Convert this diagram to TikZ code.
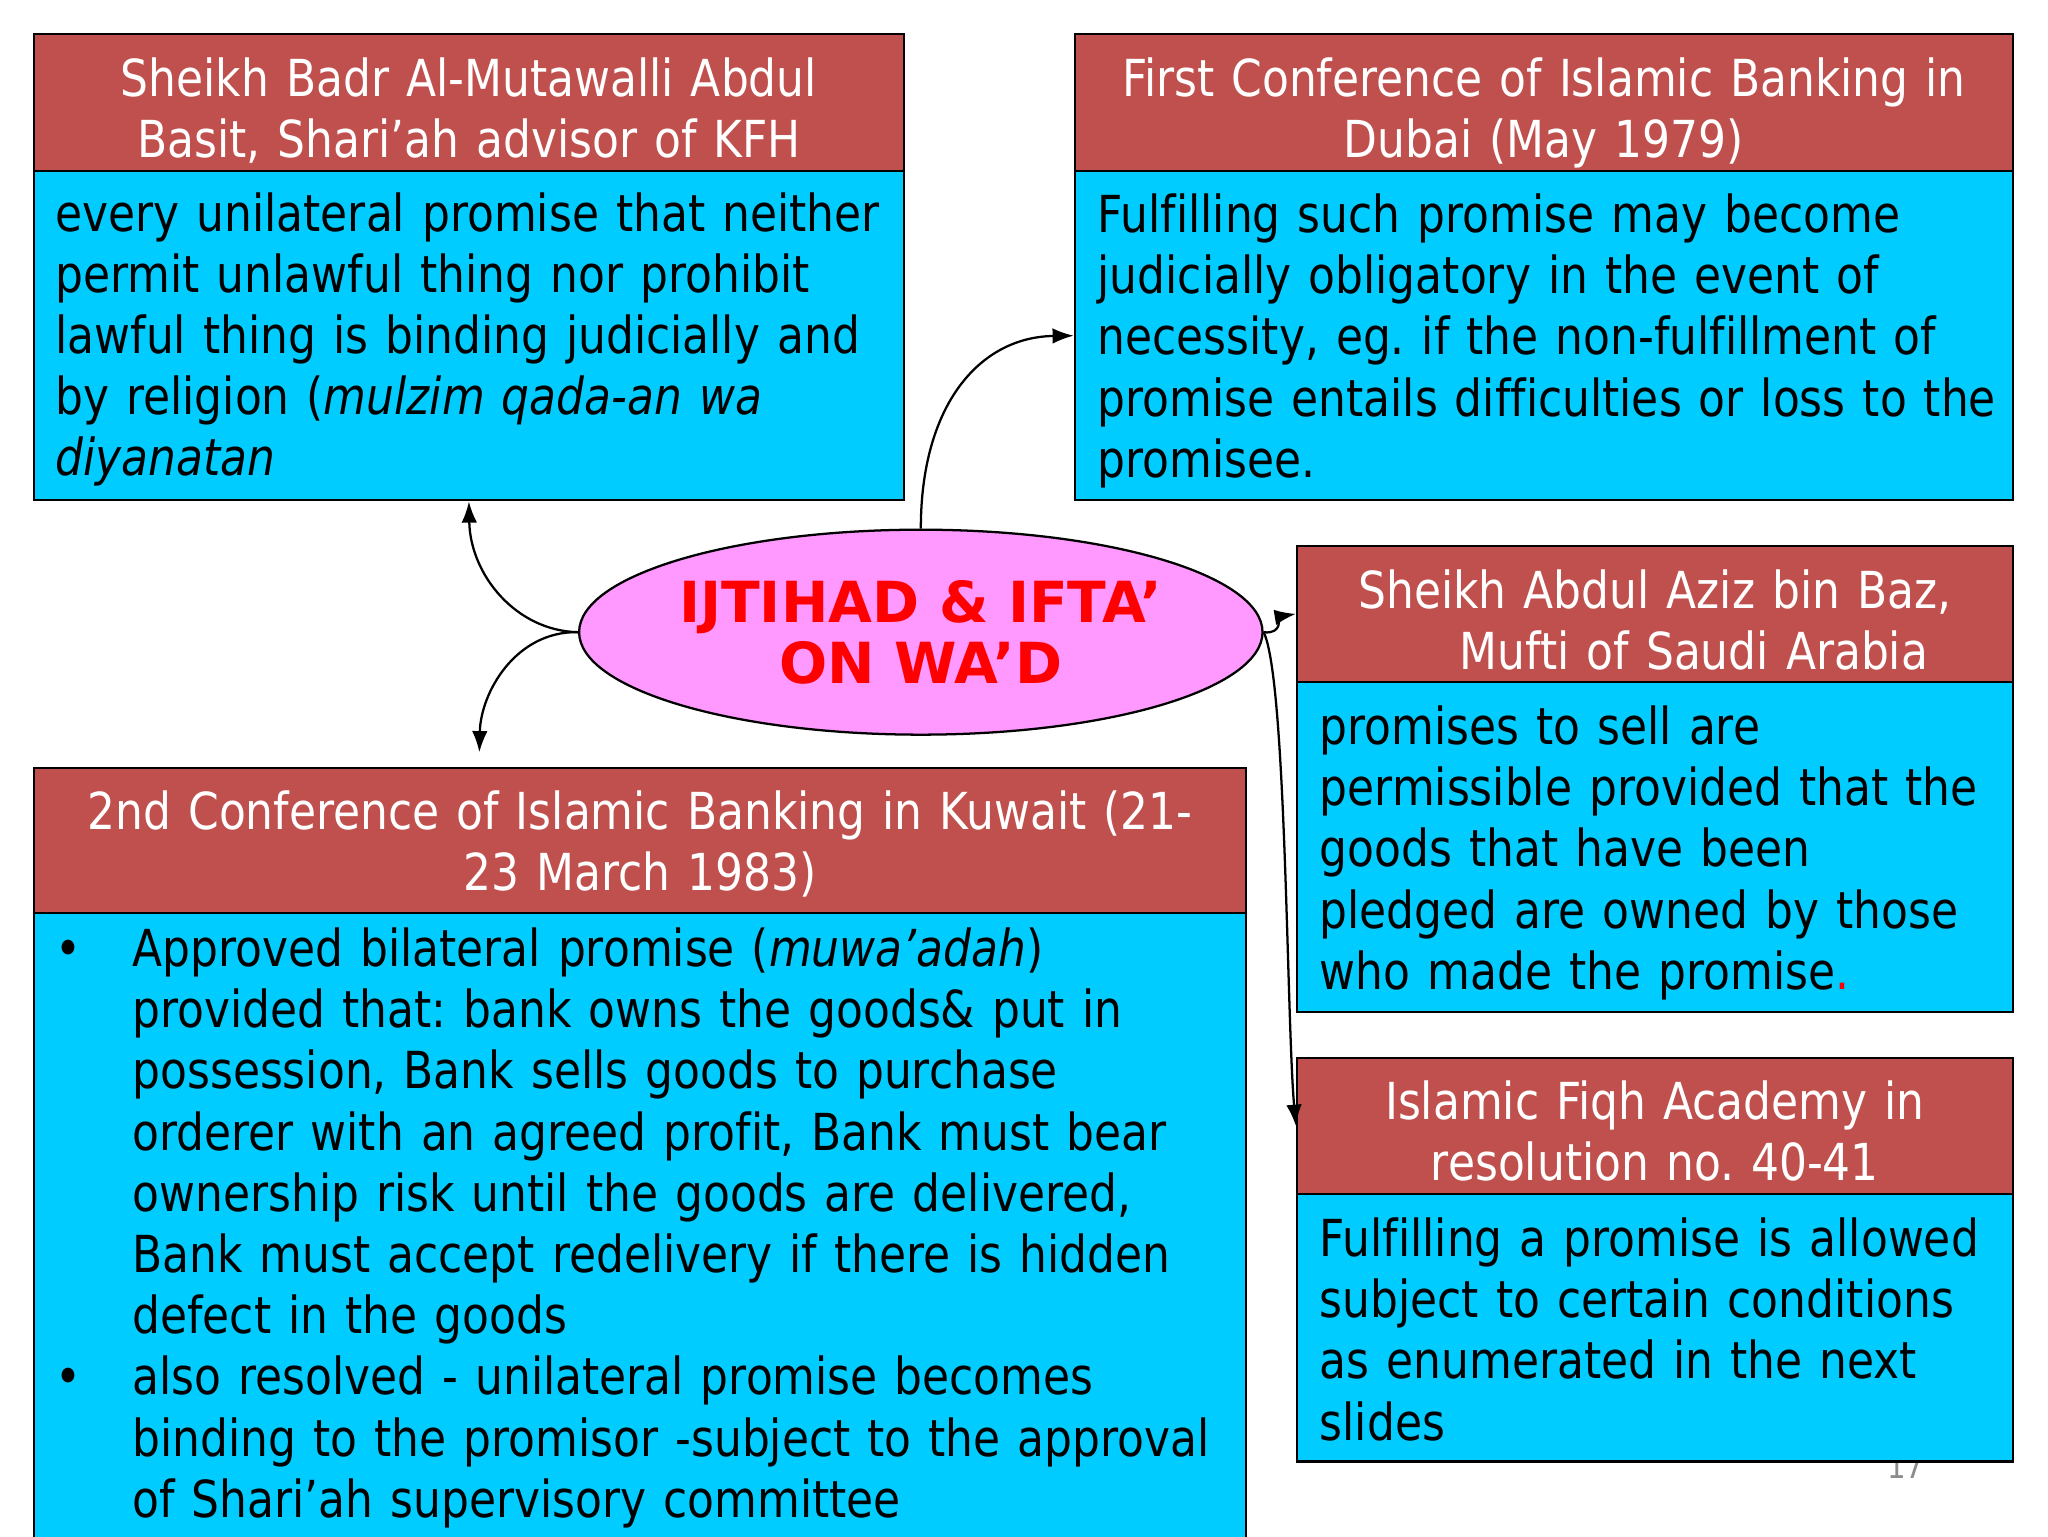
\documentclass[tikz,border=0pt]{standalone}
\usepackage{fontspec}
\setmainfont{DejaVu Sans}[FakeStretch=0.862, Ligatures=NoCommon]
\newfontfamily\elfont{DejaVu Sans}
\usetikzlibrary{shapes.geometric,arrows.meta,fit,calc}
\definecolor{hdr}{HTML}{C0504D}
\definecolor{bdy}{HTML}{00CCFF}
\definecolor{elfill}{HTML}{FF99FF}
\definecolor{pgnum}{HTML}{8C8C8C}
\newlength{\bw}\setlength{\bw}{0.826cm}
\newcommand{\bl}{\makebox[\bw][l]{\hspace*{-0.13cm}•}}
\newcommand{\ind}{\hspace*{\bw}}
\frenchspacing
\tikzset{
  panel/.style={draw=black, line width=0.8pt, inner sep=0pt},
  hdrbox/.style={panel, fill=hdr},
  bodybox/.style={panel, fill=bdy},
  hdrtext/.style={text=white, align=center, anchor=base, inner sep=0pt, font=\frenchspacing\fontsize{18}{21.6}\selectfont},
  bodytext/.style={text=black, align=left, anchor=base west, inner sep=0pt, font=\frenchspacing\fontsize{18}{21.6}\selectfont},
  link/.style={draw=black, line width=0.8pt, -{Latex[length=7.5pt,width=5.5pt]}},
  centre/.style={ellipse, draw=black, line width=0.8pt, fill=elfill, minimum width=8.472cm, minimum height=2.543cm, inner sep=0pt, align=center, text=red, font=\elfont\bfseries\fontsize{20}{21.4}\selectfont},
}
\begin{document}
\begin{tikzpicture}[x=0.016199cm, y=-0.016199cm]
\useasboundingbox (0,0) rectangle (1568,1176);
\fill[white] (0,0) rectangle (1568,1176);
\clip (0,0) rectangle (1568,1176);

% page number (partly hidden behind box D)
\node[text=pgnum, anchor=base, inner sep=0pt, font=\fontsize{12}{14}\selectfont] (pg) at (1459,1132) {17};

% Box A
\node[hdrbox, fit={(26,26)(692,131)}] (Ahead) {};
\node[bodybox, fit={(26,131)(692,383)}] (Abody) {};
\node[hdrtext, text width=10.79cm] (Ahtxt) at (359,74) {Sheikh Badr Al-Mutawalli Abdul\\Basit, Shari’ah advisor of KFH};
\node[bodytext, text width=10.5cm] (Abtxt) at (42,177) {every unilateral promise that neither\\permit unlawful thing nor prohibit\\lawful thing is binding judicially and\\by religion (\textit{mulzim qada-an wa}\\\textit{diyanatan}};

% Box B
\node[hdrbox, fit={(823,26)(1541,131)}] (Bhead) {};
\node[bodybox, fit={(823,131)(1541,383)}] (Bbody) {};
\node[hdrtext, text width=11.63cm] (Bhtxt) at (1182,74) {First Conference of Islamic Banking in\\Dubai (May 1979)};
\node[bodytext, text width=11.4cm] (Bbtxt) at (840,178) {Fulfilling such promise may become\\judicially obligatory in the event of\\necessity, eg. if the non-fulfillment of\\promise entails difficulties or loss to the\\promisee.};

% Box C
\node[hdrbox, fit={(993,418)(1541,522)}] (Chead) {};
\node[bodybox, fit={(993,522)(1541,775)}] (Cbody) {};
\node[hdrtext, text width=8.877cm] (Chtxt) at (1267,466) {Sheikh Abdul Aziz bin Baz,\\\hspace*{0.97cm}Mufti of Saudi Arabia};
\node[bodytext, text width=8.6cm] (Cbtxt) at (1010,570) {promises to sell are\\permissible provided that the\\goods that have been\\pledged are owned by those\\who made the promise\textcolor{red}{.}};

% Box D
\node[hdrbox, fit={(993,810)(1541,914)}] (Dhead) {};
\node[bodybox, fit={(993,914)(1541,1119)}] (Dbody) {};
\node[hdrtext, text width=8.877cm] (Dhtxt) at (1267,857) {Islamic Fiqh Academy in\\resolution no. 40-41};
\node[bodytext, text width=8.6cm] (Dbtxt) at (1010,962) {Fulfilling a promise is allowed\\subject to certain conditions\\as enumerated in the next\\slides};

% Box E
\node[hdrbox, fit={(26,588)(954,699)}] (Ehead) {};
\node[bodybox, fit={(26,699)(954,1200)}] (Ebody) {};
\node[hdrtext, text width=15.03cm] (Ehtxt) at (490,635) {2nd Conference of Islamic Banking in Kuwait (21-\\23 March 1983)};
\node[bodytext, text width=14.8cm] (Ebtxt) at (50,740) {\bl Approved bilateral promise (\textit{muwa’adah})\\
\ind provided that: bank owns the goods\& put in\\
\ind possession, Bank sells goods to purchase\\
\ind orderer with an agreed profit, Bank must bear\\
\ind ownership risk until the goods are delivered,\\
\ind Bank must accept redelivery if there is hidden\\
\ind defect in the goods\\
\bl also resolved - unilateral promise becomes\\
\ind binding to the promisor -subject to the approval\\
\ind of Shari’ah supervisory committee};

% central ellipse
\node[centre] (E) at (705,484) {IJTIHAD \& IFTA’\\ON WA’D};

\coordinate (e2) at (367,576);

% connectors
\draw[link] (E.west) .. controls (395,483) and (360,440) .. (Abody.south);
\draw[link] (E.west) .. controls (395,483) and (368,530) .. (e2);
\draw[link] (E.north) .. controls (705,310) and (750,258) .. (Bbody.west);
\draw[link] (E.east) .. controls (982,486) and (980,472) .. (Chead.west);
\draw[link] (E.east) .. controls (985,520) and (985,780) .. (Dhead.west);
\end{tikzpicture}
\end{document}
